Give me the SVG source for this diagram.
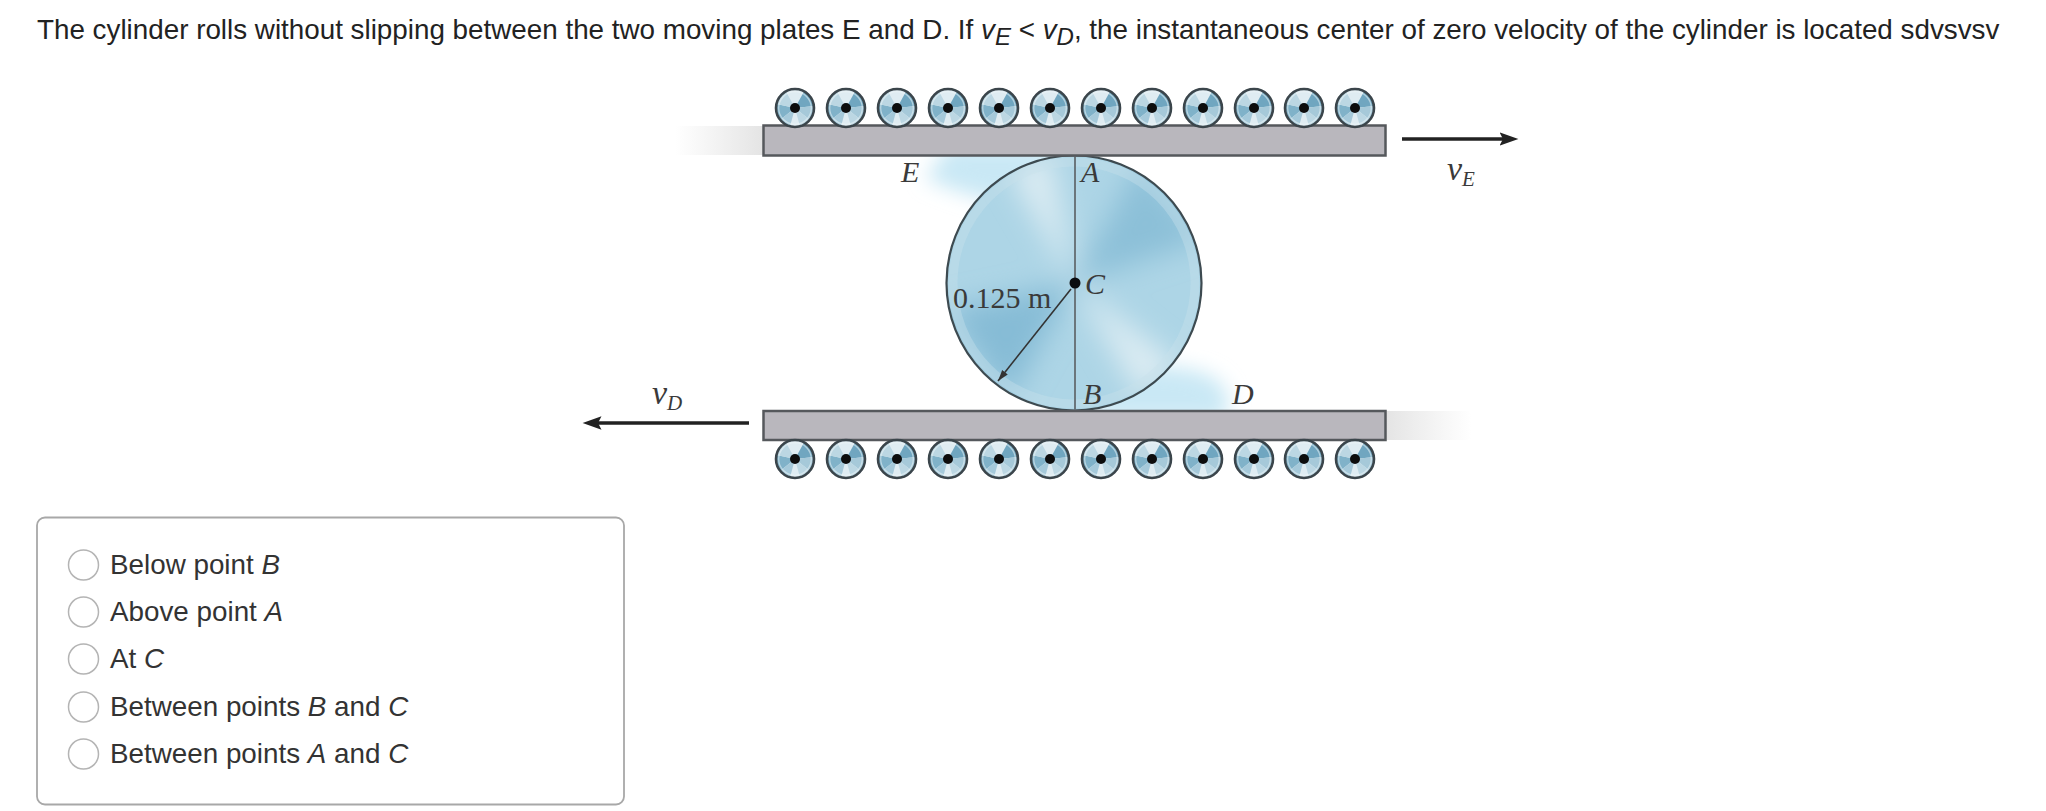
<svg xmlns="http://www.w3.org/2000/svg" xmlns:xlink="http://www.w3.org/1999/xlink" width="2046" height="811" viewBox="0 0 2046 811">
<style>
.ui{font-family:"Liberation Sans",Arial,sans-serif;font-size:27.8px;fill:#222}
.opt{font-family:"Liberation Sans",Arial,sans-serif;font-size:27.8px;fill:#333}
.i{font-style:italic}
.lab{font-family:"Liberation Serif","Times New Roman",serif;font-size:30px;fill:#3a3a3a}
.plate{fill:#b9b7bd;stroke:#55585c;stroke-width:2.5}
.radio{fill:#fff;stroke:#b4b4b4;stroke-width:1.5}
.arrow{stroke:#222;stroke-width:3.5;fill:none}
</style>
<defs>
<filter id="b8" x="-50%" y="-50%" width="200%" height="200%"><feGaussianBlur stdDeviation="10"/></filter>
<filter id="b12" x="-40%" y="-40%" width="180%" height="180%"><feGaussianBlur stdDeviation="14"/></filter>
<filter id="b1" x="-20%" y="-20%" width="140%" height="140%"><feGaussianBlur stdDeviation="0.45"/></filter>
<clipPath id="disc"><circle cx="1074" cy="283" r="127"/></clipPath>
<clipPath id="topGap"><rect x="880" y="156" width="200" height="70"/></clipPath>
<clipPath id="botGap"><rect x="1070" y="350" width="210" height="60"/></clipPath>
<linearGradient id="fadeL"><stop offset="0" stop-color="#e6e6e6" stop-opacity="0"/><stop offset="1" stop-color="#e4e4e4"/></linearGradient>
<linearGradient id="fadeR"><stop offset="0" stop-color="#e4e4e4"/><stop offset="1" stop-color="#e6e6e6" stop-opacity="0"/></linearGradient>
<marker id="head" markerWidth="6" markerHeight="5" refX="1" refY="2.5" orient="auto" markerUnits="strokeWidth"><path d="M0 0.6 L5.4 2.5 L0 4.4 L1 2.5 Z" fill="#222"/></marker>
<marker id="tick" markerWidth="8" markerHeight="6" refX="7" refY="3" orient="auto" markerUnits="strokeWidth"><path d="M0 0.8 L7 3 L0 5.2 Z" fill="#333"/></marker>
<symbol id="roller" overflow="visible" viewBox="-21 -21 42 42" width="42" height="42">
<g filter="url(#b1)">
<circle r="19" fill="#dfecf2"/>
<path d="M0 0 L9 -16.5 A19 19 0 0 1 19 -2 Z" fill="#6fa6c0"/>
<path d="M0 0 L-18.5 -4 A19 19 0 0 0 -15 12 Z" fill="#80b2c9"/>
<path d="M0 0 L-9 -16.5 A19 19 0 0 0 -18.5 -4 Z" fill="#bcd7e3"/>
<path d="M0 0 L19 -2 A19 19 0 0 1 15 12 Z" fill="#a6c9d9"/>
<path d="M0 0 L-15 12 A19 19 0 0 0 -5 18.5 Z" fill="#a5c9da"/>
<path d="M0 0 L5 18.5 A19 19 0 0 0 15 12 Z" fill="#bcd7e3"/>
<circle r="16.3" fill="none" stroke="#eef5f8" stroke-width="1.2" opacity=".55"/>
<circle r="19" fill="none" stroke="#3a454b" stroke-width="2.6"/>
<circle r="5" fill="#0c0d10"/>
</g>
</symbol>
</defs>
<rect width="2046" height="811" fill="#fff"/>

<text class="ui" x="37" y="39">The cylinder rolls without slipping between the two moving plates E and D. If <tspan class="i">v</tspan><tspan class="i" dy="6" font-size="24">E</tspan><tspan dy="-6"> &lt; </tspan><tspan class="i">v</tspan><tspan class="i" dy="6" font-size="24">D</tspan><tspan dy="-6">, the instantaneous center of zero velocity of the cylinder is located sdvsvsv</tspan></text>

<g id="motion-blur">
<rect x="675" y="126" width="88" height="29" fill="url(#fadeL)"/>
<rect x="1386" y="411" width="85" height="29" fill="url(#fadeR)"/>
<g clip-path="url(#topGap)"><path d="M925 178 Q985 205 1015 200 L1075 145 L950 145 Z" fill="#c9e8f5" filter="url(#b8)"/></g>
<g clip-path="url(#botGap)"><path d="M1090 420 L1225 420 Q1240 375 1180 368 L1120 362 Z" fill="#c9e8f5" filter="url(#b8)"/></g>
</g>

<g id="cylinder">
<circle cx="1074" cy="283" r="127" fill="#add5e6"/>
<g clip-path="url(#disc)">
<g filter="url(#b12)">
<path d="M1074 283 L1140 160 L1205 240 Z" fill="#8cc0d8"/>
<path d="M1074 283 L1010 400 L945 310 Z" fill="#86bcd6"/>
<path d="M1074 283 L1008 170 L1050 150 Z" fill="#dcecf3"/>
<path d="M1074 283 L1180 365 L1140 398 Z" fill="#dcecf3"/>
</g>
<circle cx="1074" cy="283" r="121" fill="none" stroke="#c7e0ea" stroke-width="9" opacity=".4"/>
</g>
<circle cx="1074" cy="283" r="127.5" fill="none" stroke="#3d4a50" stroke-width="2.2"/>
<line x1="1075" y1="155" x2="1075" y2="411" stroke="#6b767c" stroke-width="2"/>
<circle cx="1075" cy="283" r="5.5" fill="#0c0d10"/>
</g>

<g id="plate-E"><rect class="plate" x="763.5" y="125.5" width="622" height="30"/></g>
<g id="plate-D"><rect class="plate" x="763.5" y="411" width="622" height="29"/></g>

<g id="rollers-top">
<use xlink:href="#roller" href="#roller" x="774" y="87"/><use xlink:href="#roller" href="#roller" x="825" y="87"/><use xlink:href="#roller" href="#roller" x="876" y="87"/><use xlink:href="#roller" href="#roller" x="927" y="87"/><use xlink:href="#roller" href="#roller" x="978" y="87"/><use xlink:href="#roller" href="#roller" x="1029" y="87"/><use xlink:href="#roller" href="#roller" x="1080" y="87"/><use xlink:href="#roller" href="#roller" x="1131" y="87"/><use xlink:href="#roller" href="#roller" x="1182" y="87"/><use xlink:href="#roller" href="#roller" x="1233" y="87"/><use xlink:href="#roller" href="#roller" x="1283" y="87"/><use xlink:href="#roller" href="#roller" x="1334" y="87"/>
</g>
<g id="rollers-bottom">
<use xlink:href="#roller" href="#roller" x="774" y="438"/><use xlink:href="#roller" href="#roller" x="825" y="438"/><use xlink:href="#roller" href="#roller" x="876" y="438"/><use xlink:href="#roller" href="#roller" x="927" y="438"/><use xlink:href="#roller" href="#roller" x="978" y="438"/><use xlink:href="#roller" href="#roller" x="1029" y="438"/><use xlink:href="#roller" href="#roller" x="1080" y="438"/><use xlink:href="#roller" href="#roller" x="1131" y="438"/><use xlink:href="#roller" href="#roller" x="1182" y="438"/><use xlink:href="#roller" href="#roller" x="1233" y="438"/><use xlink:href="#roller" href="#roller" x="1283" y="438"/><use xlink:href="#roller" href="#roller" x="1334" y="438"/>
</g>

<g id="connectors">
<line class="arrow" x1="1402" y1="139" x2="1503" y2="139" marker-end="url(#head)"/>
<line class="arrow" x1="749" y1="423" x2="598" y2="423" marker-end="url(#head)"/>
<line x1="1071" y1="289" x2="998" y2="381" stroke="#333" stroke-width="1.6" marker-end="url(#tick)"/>
</g>

<g id="labels">
<text class="lab i" x="901" y="182">E</text>
<text class="lab i" x="1081" y="182">A</text>
<text class="lab i" x="1085" y="294">C</text>
<text class="lab i" x="1083" y="404">B</text>
<text class="lab i" x="1232" y="404">D</text>
<text class="lab" x="953" y="308">0.125 m</text>
<text class="lab i" x="1447" y="180" style="font-size:34px">v<tspan style="font-size:21px" dy="6">E</tspan></text>
<text class="lab i" x="652" y="404" style="font-size:34px">v<tspan style="font-size:21px" dy="6">D</tspan></text>
</g>

<g id="answers">
<rect x="37" y="517.5" width="587" height="287" rx="8" fill="#fff" stroke="#a8a8a8" stroke-width="1.8"/>
<g id="option-1"><circle class="radio" cx="83.5" cy="565" r="15"/><text class="opt" x="110" y="574">Below point <tspan class="i">B</tspan></text></g>
<g id="option-2"><circle class="radio" cx="83.5" cy="612" r="15"/><text class="opt" x="110" y="621">Above point <tspan class="i">A</tspan></text></g>
<g id="option-3"><circle class="radio" cx="83.5" cy="659" r="15"/><text class="opt" x="110" y="668">At <tspan class="i">C</tspan></text></g>
<g id="option-4"><circle class="radio" cx="83.5" cy="707" r="15"/><text class="opt" x="110" y="716">Between points <tspan class="i">B</tspan> and <tspan class="i">C</tspan></text></g>
<g id="option-5"><circle class="radio" cx="83.5" cy="754" r="15"/><text class="opt" x="110" y="763">Between points <tspan class="i">A</tspan> and <tspan class="i">C</tspan></text></g>
</g>
</svg>
